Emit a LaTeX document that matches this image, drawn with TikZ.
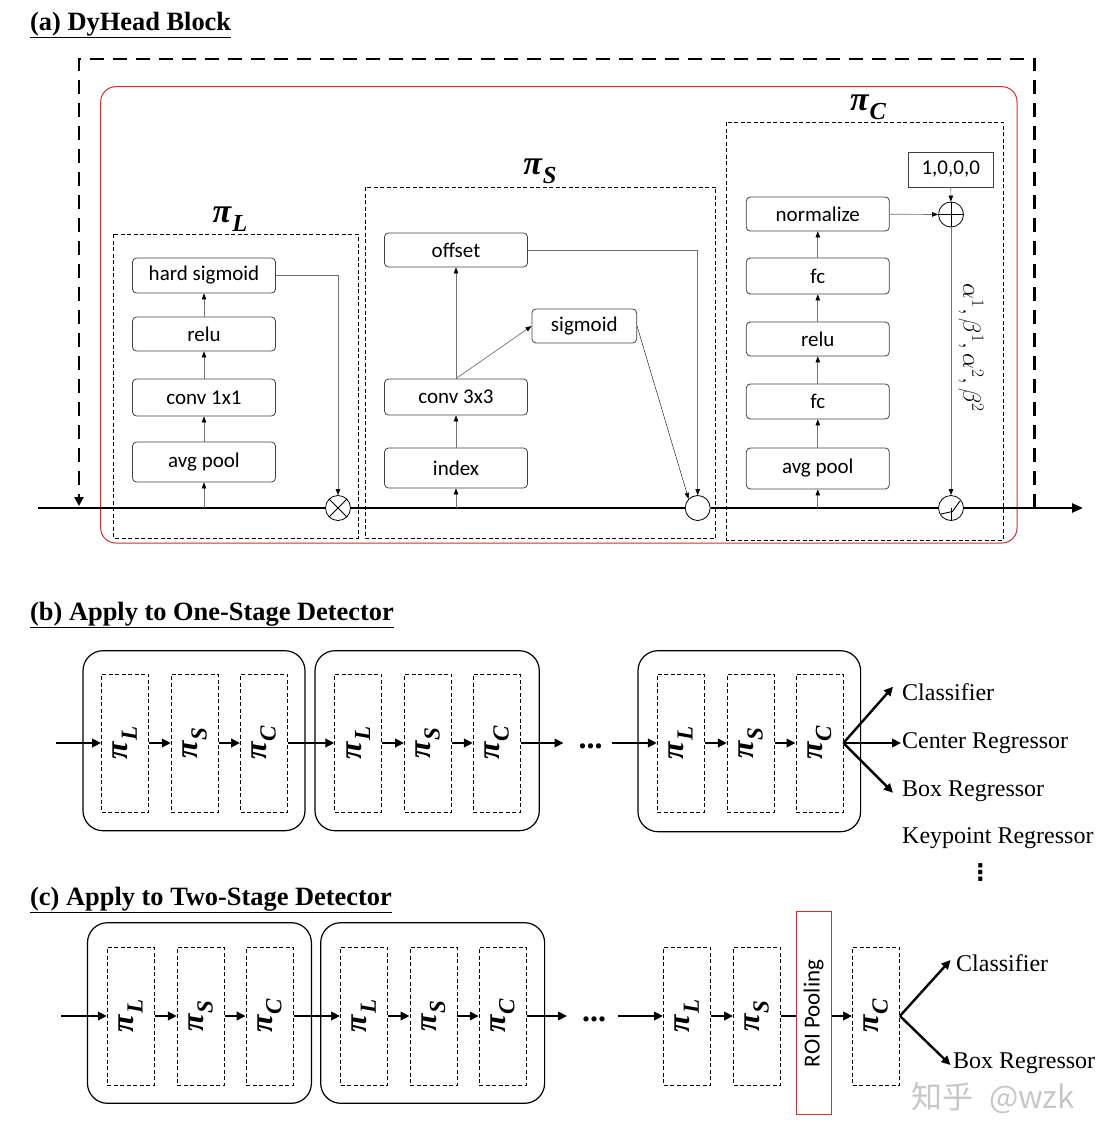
\documentclass[tikz,border=0pt]{standalone}
\usepackage{fontspec}
\setmainfont{Liberation Serif}
\newfontfamily\calib{Carlito}
\newfontfamily\cjkfont{Noto Sans CJK SC}
\newfontfamily\dejavu{DejaVu Sans}
\usetikzlibrary{arrows.meta,calc}
\definecolor{redbox}{RGB}{212,45,45}
\newcommand\setfs[1]{\fontsize{#1}{#1}\selectfont}
\newcommand\pilab[1]{{\bfseries\itshape π\kern0.03em\raisebox{-0.28em}{\fontsize{0.72em}{0.72em}\selectfont #1}}}
\begin{document}
\begin{tikzpicture}[x=1pt,y=-1pt,
  blk/.style={draw=black!75, line width=0.8pt, rounded corners=4pt, minimum width=143pt, inner sep=0pt, font=\calib\setfs{21}},
  flow/.style={draw=black!55, line width=0.7pt, -{Triangle[length=6pt,width=4.5pt,color=black]}},
  region/.style={line width=0.8pt, dash pattern=on 4pt off 2.5pt},
  plbl/.style={font=\setfs{34}, inner sep=0pt, anchor=south},
  opc/.style={circle, draw, fill=white, line width=0.8pt, minimum size=25pt, inner sep=0pt},
  bigarr/.style={line width=2.4pt, -{Triangle[length=9pt,width=8.5pt]}},
  stage/.style={draw, line width=0.9pt, dash pattern=on 4pt off 2.5pt, minimum width=47pt, minimum height=138pt, inner sep=0pt},
  st/.style={stage, label={[rotate=90,font=\setfs{32},inner sep=0pt]center:\pilab{#1}}},
  blockbox/.style={draw, line width=1.2pt, rounded corners=20pt},
  outtxt/.style={font=\setfs{24}, anchor=west, inner sep=0pt},
  ttl/.style={font=\bfseries\setfs{26.4}, anchor=base west, inner sep=0pt}
]
\useasboundingbox (0,0) rectangle (1106,1146);

% ---------------- (a) ----------------
\node[ttl] (ta) at (30,30) {\underline{(a) DyHead Block}};

\draw[redbox, line width=1pt, rounded corners=15pt] (100.7,86.7) rectangle (1017,543);

\draw[region] (113.6,234) rectangle (358,538);
\draw[region] (365,187) rectangle (715.8,538);
\draw[region] (726.6,122) rectangle (1003.5,540);

\node[plbl] (tL) at (230,232) {\pilab{L}};
\node[plbl] (tS) at (540,184) {\pilab{S}};
\node[plbl] (tC) at (868,120) {\pilab{C}};

\node[blk, minimum height=35pt] (hs) at (204,275.5) {hard sigmoid};
\node[blk, minimum height=34pt] (reluL) at (204,334) {relu};
\node[blk, minimum height=37pt] (conv1) at (204,397.5) {conv 1x1};
\node[blk, minimum height=40pt] (avgL) at (204,462) {avg pool};

\node[blk, minimum height=34pt] (offset) at (456,250) {offset};
\node[blk, minimum height=36pt] (conv3) at (456,397) {conv 3x3};
\node[blk, minimum height=40pt] (index) at (456,468) {index};
\node[blk, minimum height=34pt, minimum width=104.7pt] (sig) at (584.3,326) {sigmoid};

\node[blk, minimum height=34pt] (norm) at (817.8,214) {normalize};
\node[blk, minimum height=36pt] (fcA) at (817.8,276) {fc};
\node[blk, minimum height=34pt] (reluC) at (817.8,339) {relu};
\node[blk, minimum height=35pt] (fcB) at (817.8,401.5) {fc};
\node[blk, minimum height=41pt] (avgC) at (817.8,468.5) {avg pool};
\node[draw=black!75, line width=0.9pt, minimum width=85pt, minimum height=35pt, inner sep=0pt, font=\calib\setfs{21}] (one) at (950.7,169.5) {1,0,0,0};

\coordinate (in) at (38,508);
\coordinate (out) at (1083,508);
\node[opc] (mult) at (338,508) {};
\node[opc] (circ) at (697.7,508) {};
\node[opc] (plus) at (951,214.5) {};
\node[opc] (act) at (951,508) {};

\draw[line width=2.4pt, -{Triangle[length=11pt,width=9pt]}] (in) -- (mult) -- (circ) -- (act) -- (out);

\draw[line width=0.8pt] (mult.north east) -- (mult.south west) (mult.north west) -- (mult.south east);
\draw[line width=0.8pt] (plus.north) -- (plus.south) (plus.west) -- (plus.east);
\draw[line width=0.6pt] (act.center) -- (act.south);
\draw[line width=0.9pt] ($(act)+(-10,6)$) -- ($(act)+(1.5,3.5)$) -- ($(act)+(9,-7)$);

\draw[flow] (avgL |- in) -- (avgL);
\draw[flow] (avgL) -- (conv1);
\draw[flow] (conv1) -- (reluL);
\draw[flow] (reluL) -- (hs);
\draw[flow] (hs.east) -| (mult.north);

\draw[flow] (index |- in) -- (index);
\draw[flow] (index) -- (conv3);
\draw[flow] (conv3) -- (offset);
\draw[flow] (conv3.north) -- (sig.west);
\draw[flow] (offset.east) -| (circ.north);
\draw[flow, draw=black!85, line width=0.5pt] (sig.east) -- (circ.135);

\draw[flow] (avgC |- in) -- (avgC);
\draw[flow] (avgC) -- (fcB);
\draw[flow] (fcB) -- (reluC);
\draw[flow] (reluC) -- (fcA);
\draw[flow] (fcA) -- (norm);
\draw[flow] (norm) -- (plus);
\draw[flow] (one) -- (plus);
\draw[flow] (plus) -- (act);

\node[rotate=-90, font=\setfs{24}, inner sep=0pt] (ab) at (971,348) {$\alpha^1,\beta^1,\alpha^2,\beta^2$};

\coordinate (dR) at (1034.6,508);
\coordinate (dTR) at (1034.6,59);
\coordinate (dTL) at (79,59);
\coordinate (dL) at (79,506);
\draw[line width=2.6pt, dash pattern=on 14pt off 9pt, -{Triangle[length=9pt,width=9pt]}] (dR) -- (dTR) -- (dTL) -- (dL);

% ---------------- (b) ----------------
\node[ttl] (tb) at (30,620) {\underline{(b) Apply to One-Stage Detector}};
\draw[blockbox] (83,650.7) rectangle (305,830.7);
\draw[blockbox] (315,650.7) rectangle (539.3,830.7);
\draw[blockbox] (638,650.7) rectangle (860.6,831.7);

\node[st=L] (bAL) at (125,743) {};
\node[st=S] (bAS) at (194.8,743) {};
\node[st=C] (bAC) at (264,743) {};
\node[st=L] (bBL) at (358.3,743) {};
\node[st=S] (bBS) at (428,743) {};
\node[st=C] (bBC) at (496.8,743) {};
\node[st=L] (bCL) at (680.8,743) {};
\node[st=S] (bCS) at (750.8,743) {};
\node[st=C] (bCC) at (819.5,743) {};

\coordinate (bin) at (56,743);
\coordinate (bmidA) at (563.5,743);
\coordinate (bmidB) at (612,743);
\node[font=\bfseries\setfs{32}, inner sep=0pt] (bdots) at (590.5,746) {...};
\draw[bigarr] (bin) -- (bAL);
\draw[bigarr] (bAL) -- (bAS);
\draw[bigarr] (bAS) -- (bAC);
\draw[bigarr] (bAC) -- (bBL);
\draw[bigarr] (bBL) -- (bBS);
\draw[bigarr] (bBS) -- (bBC);
\draw[bigarr] (bBC) -- (bmidA);
\draw[bigarr] (bmidB) -- (bCL);
\draw[bigarr] (bCL) -- (bCS);
\draw[bigarr] (bCS) -- (bCC);

\node[outtxt] (cls) at (902,691.7) {Classifier};
\node[outtxt] (ctr) at (902,743) {Center Regressor};
\node[outtxt] (boxr) at (902,791.7) {Box Regressor};
\node[outtxt] (kp) at (902,838) {Keypoint Regressor};
\node[inner sep=0pt, font=\dejavu\bfseries\setfs{23}] (vd) at (980.4,872) {⋮};
\draw[bigarr] (bCC.east) -- ($(cls.west)+(-9,-5)$);
\draw[bigarr] (bCC.east) -- ($(ctr.west)+(-1,0)$);
\draw[bigarr] (bCC.east) -- ($(boxr.west)+(-9,1)$);

% ---------------- (c) ----------------
\node[ttl] (tc) at (30,905) {\underline{(c) Apply to Two-Stage Detector}};
\draw[blockbox] (87.5,922.7) rectangle (311.4,1103.3);
\draw[blockbox] (320.7,922.7) rectangle (544.6,1103.3);

\node[st=L] (cAL) at (130.8,1016) {};
\node[st=S] (cAS) at (200.8,1016) {};
\node[st=C] (cAC) at (269.6,1016) {};
\node[st=L] (cBL) at (364,1016) {};
\node[st=S] (cBS) at (433.5,1016) {};
\node[st=C] (cBC) at (502.7,1016) {};
\node[st=L] (cCL) at (687,1016) {};
\node[st=S] (cCS) at (757,1016) {};
\node[st=C] (cCC) at (876,1016) {};
\node[draw=redbox, line width=1.1pt, minimum width=34.7pt, minimum height=203pt, inner sep=0pt,
      label={[rotate=90,font=\calib\setfs{23},inner sep=0pt]center:ROI Pooling}] (roi) at (813.7,1013.4) {};

\coordinate (cin) at (61.4,1016);
\coordinate (cmidA) at (567,1016);
\coordinate (cmidB) at (617.6,1016);
\node[font=\bfseries\setfs{32}, inner sep=0pt] (cdots) at (594,1019) {...};
\draw[bigarr] (cin) -- (cAL);
\draw[bigarr] (cAL) -- (cAS);
\draw[bigarr] (cAS) -- (cAC);
\draw[bigarr] (cAC) -- (cBL);
\draw[bigarr] (cBL) -- (cBS);
\draw[bigarr] (cBS) -- (cBC);
\draw[bigarr] (cBC) -- (cmidA);
\draw[bigarr] (cmidB) -- (cCL);
\draw[bigarr] (cCL) -- (cCS);
\draw[line width=2.4pt] (cCS.east) -- (cCS.east -| roi.west);
\draw[bigarr] (roi.east |- cCC) -- (cCC);

\node[outtxt] (ccls) at (956,963) {Classifier};
\node[outtxt] (cbox) at (953,1063) {Box Regressor};
\draw[bigarr] (cCC.east) -- ($(ccls.west)+(-5.5,-3)$);
\draw[bigarr] (cCC.east) -- ($(cbox.west)+(-2.5,2)$);

\node[font=\cjkfont\setfs{31}, text=black!22, inner sep=0pt] (wm) at (993,1098) {知乎\hspace{0.5em}@wzk};
\end{tikzpicture}
\end{document}
